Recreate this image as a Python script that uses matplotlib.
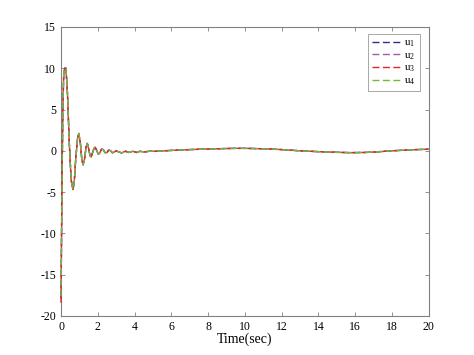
import matplotlib.pyplot as plt
import numpy as np

plt.rcParams['font.family'] = ['Liberation Serif', 'DejaVu Serif']
plt.rcParams['mathtext.fontset'] = 'stix'
plt.rcParams['axes.unicode_minus'] = False

# time samples (s) and the response
t = [0, 0.05, 0.1, 0.15, 0.2, 0.27, 0.35, 0.45, 0.55, 0.65, 0.72, 0.8, 0.9,
     0.97, 1.05, 1.13, 1.2, 1.28, 1.36, 1.43, 1.5, 1.58, 1.64, 1.72, 1.8,
     1.86, 1.95, 2.03, 2.1, 2.2, 2.3, 2.4, 2.5, 2.6, 2.7, 2.8, 2.9, 3.0,
     3.1, 3.3, 3.5, 3.7, 3.9, 4.1, 4.3, 4.5, 4.8, 5.2, 6, 7, 8, 9, 9.5,
     10, 11, 12, 13, 14, 15, 15.7, 16.5, 17, 18, 19, 20]
u1 = [-17.8, -5, 5, 9.5, 10, 10, 7, 1, -3.5, -4.7, -3.8, -1, 1.5,
      2.1, 1, -1, -1.7, -1, 0.4, 0.9, 0.3, -0.6, -0.75, -0.2, 0.35,
      0.45, 0, -0.4, -0.3, 0.2, 0.15, -0.25, -0.2, 0.1, 0.0, -0.25, -0.15, 0.0,
      -0.1, -0.25, -0.05, -0.2, -0.05, -0.2, -0.05, -0.15, -0.05, -0.05, 0.05, 0.15, 0.22, 0.28, 0.3,
      0.3, 0.25, 0.15, 0.0, -0.1, -0.18, -0.22, -0.2, -0.15, 0.0, 0.12, 0.2]
u2 = [-17.9] + u1[1:]
u3 = [-18.4] + u1[1:]
u4 = [-17.6] + u1[1:]

labels = [r'$\mathregular{u_1}$', r'$\mathregular{u_2}$',
          r'$\mathregular{u_3}$', r'$\mathregular{u_4}$']
colors = ['#2e2e8a', '#a45aa8', '#e0252a', '#72b83c']

fig = plt.figure(figsize=(4.74, 3.55), dpi=100)
ax = fig.add_axes([0.1287, 0.110, 0.776, 0.814])

for u, lab, c in zip([u1, u2, u3, u4], labels, colors):
    ax.plot(t, u, '--', color=c, lw=1.0, dashes=(5, 2.5), label=lab,
            zorder=3, clip_on=False)

ax.set_xlim(0, 20)
ax.set_ylim(-20, 15)
ax.set_xticks(np.arange(0, 21, 2))
ax.set_yticks(np.arange(-20, 16, 5))
ax.tick_params(direction='in', top=True, right=True, labelsize=8.5,
               color='#808080', length=3, width=0.6)
for s in ax.spines.values():
    s.set_color('#808080')
    s.set_linewidth(0.8)
ax.set_xlabel('Time(sec)', fontsize=10, labelpad=0)

leg = ax.legend(loc='upper right', fontsize=8, frameon=True, fancybox=False,
                edgecolor='#808080', handlelength=2.6, handletextpad=0.35,
                borderpad=0.35, labelspacing=0.12, borderaxespad=0,
                bbox_to_anchor=(0.975, 0.976))
leg.get_frame().set_linewidth(0.6)

fig.savefig('out.png', dpi=100)
